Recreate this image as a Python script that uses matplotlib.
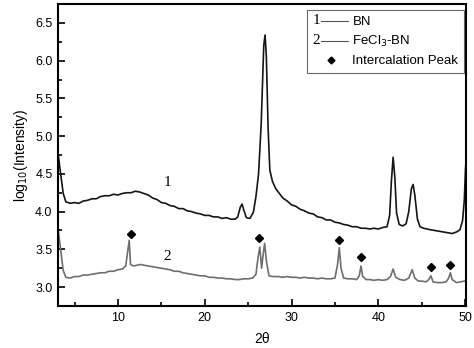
import matplotlib
matplotlib.use("Agg")
import matplotlib.pyplot as plt
from matplotlib.legend_handler import HandlerBase
from matplotlib.lines import Line2D
from matplotlib.text import Text

plt.rcParams["font.family"] = ["Liberation Sans", "DejaVu Sans"]

# curve 1: BN
bn_x = [3.1, 3.4, 3.7, 4.0, 4.5, 5.0, 5.5, 6.0, 6.5, 7.0, 7.5, 8.0, 8.5, 9.0, 9.5,
        10.0, 10.5, 11.0, 11.5, 12.0, 12.5, 13.0, 13.5, 14.0, 14.5, 15.0, 15.5,
        16.0, 16.5, 17.0, 17.5, 18.0, 18.5, 19.0, 19.5, 20.0, 20.5, 21.0, 21.5,
        22.0, 22.5, 23.0, 23.5, 23.8, 24.1, 24.3, 24.5, 24.8, 25.2, 25.6, 25.9,
        26.2, 26.5, 26.8, 26.95, 27.1, 27.3, 27.5, 27.8, 28.2, 28.6, 29.0, 29.5,
        30.0, 30.5, 31.0, 31.5, 32.0, 32.5, 33.0, 33.5, 34.0, 34.5, 35.0, 35.5,
        36.0, 36.5, 37.0, 37.5, 38.0, 38.5, 39.0, 39.5, 40.0, 40.5, 41.0, 41.3,
        41.5, 41.7, 41.9, 42.1, 42.4, 42.8, 43.2, 43.5, 43.8, 44.0, 44.2, 44.5,
        44.8, 45.2, 45.6, 46.0, 46.5, 47.0, 47.5, 48.0, 48.5, 49.0, 49.4, 49.7,
        49.9, 50.05]
bn_y = [4.78, 4.50, 4.24, 4.13, 4.11, 4.12, 4.11, 4.14, 4.15, 4.17, 4.17, 4.20,
        4.21, 4.21, 4.23, 4.22, 4.24, 4.25, 4.25, 4.27, 4.26, 4.24, 4.22, 4.18,
        4.16, 4.12, 4.11, 4.08, 4.07, 4.04, 4.04, 4.01, 4.00, 3.98, 3.97, 3.95,
        3.95, 3.93, 3.93, 3.91, 3.92, 3.90, 3.90, 3.93, 4.06, 4.10, 4.02, 3.92,
        3.91, 3.99, 4.20, 4.50, 5.15, 6.20, 6.34, 6.05, 5.10, 4.55, 4.40, 4.30,
        4.24, 4.18, 4.14, 4.09, 4.07, 4.03, 4.01, 3.98, 3.97, 3.93, 3.92, 3.89,
        3.89, 3.86, 3.85, 3.83, 3.82, 3.80, 3.80, 3.78, 3.78, 3.77, 3.78, 3.77,
        3.79, 3.80, 3.95, 4.40, 4.72, 4.45, 3.98, 3.83, 3.81, 3.84, 4.00, 4.30,
        4.36, 4.22, 3.90, 3.80, 3.78, 3.77, 3.76, 3.75, 3.74, 3.73, 3.72, 3.71,
        3.73, 3.76, 3.88, 4.15, 4.60]

# curve 2: FeCl3-BN
fe_x = [3.1, 3.4, 3.7, 4.0, 4.5, 5.0, 5.5, 6.0, 6.5, 7.0, 7.5, 8.0, 8.5, 9.0, 9.5,
        10.0, 10.5, 10.9, 11.1, 11.3, 11.45, 11.8, 12.2, 12.6, 13.0, 13.5, 14.0,
        14.5, 15.0, 15.5, 16.0, 16.5, 17.0, 17.5, 18.0, 18.5, 19.0, 19.5, 20.0,
        20.5, 21.0, 21.5, 22.0, 22.5, 23.0, 23.5, 24.0, 24.5, 25.0, 25.5, 25.9,
        26.15, 26.35, 26.55, 26.75, 26.9, 27.1, 27.4, 27.8, 28.5, 29.0, 29.5,
        30.0, 30.5, 31.0, 31.5, 32.0, 32.5, 33.0, 33.5, 34.0, 34.5, 35.0, 35.3,
        35.5, 35.7, 36.0, 36.5, 37.0, 37.5, 37.8, 38.0, 38.2, 38.6, 39.0, 39.5,
        40.0, 40.5, 41.0, 41.4, 41.7, 42.0, 42.5, 43.0, 43.5, 43.9, 44.2, 44.6,
        45.0, 45.5, 45.8, 46.05, 46.3, 46.8, 47.3, 47.8, 48.1, 48.3, 48.5, 49.0,
        49.5, 49.9]
fe_y = [3.78, 3.50, 3.22, 3.13, 3.12, 3.14, 3.14, 3.16, 3.16, 3.17, 3.18, 3.19,
        3.19, 3.21, 3.21, 3.23, 3.24, 3.28, 3.45, 3.62, 3.30, 3.28, 3.29, 3.30,
        3.29, 3.28, 3.27, 3.26, 3.25, 3.24, 3.23, 3.21, 3.21, 3.19, 3.18, 3.17,
        3.16, 3.15, 3.15, 3.13, 3.13, 3.12, 3.12, 3.11, 3.11, 3.10, 3.10, 3.11,
        3.11, 3.12, 3.17, 3.40, 3.53, 3.25, 3.45, 3.58, 3.35, 3.15, 3.14, 3.14,
        3.13, 3.14, 3.13, 3.13, 3.12, 3.13, 3.12, 3.12, 3.11, 3.12, 3.11, 3.11,
        3.12, 3.30, 3.52, 3.25, 3.12, 3.11, 3.11, 3.10, 3.15, 3.28, 3.14, 3.10,
        3.10, 3.09, 3.10, 3.09, 3.10, 3.14, 3.24, 3.13, 3.10, 3.09, 3.12, 3.23,
        3.12, 3.08, 3.08, 3.07, 3.10, 3.15, 3.07, 3.06, 3.06, 3.07, 3.12, 3.19,
        3.10, 3.06, 3.07, 3.08]

# intercalation peak markers
peak_x = [11.5, 26.3, 35.5, 38.0, 46.1, 48.3]
peak_y = [3.70, 3.65, 3.63, 3.40, 3.27, 3.29]

BN_COLOR = "#151515"
FE_COLOR = "#6e6e6e"


class NumberedLine(HandlerBase):
    # legend entry drawn as a serif number followed by a short line
    def __init__(self, num):
        super().__init__()
        self.num = num

    def create_artists(self, legend, orig_handle, xdescent, ydescent,
                       width, height, fontsize, trans):
        y = (height - ydescent) / 2
        num = Text(-xdescent, y, self.num, family="Liberation Serif",
                   fontsize=11, ha="left", va="center", transform=trans)
        line = Line2D([-xdescent + 0.22 * width, -xdescent + width], [y, y],
                      color="#555555", lw=0.8, transform=trans)
        return [num, line]


def main() -> None:
    fig = plt.figure(figsize=(4.74, 3.48), dpi=100)
    ax = fig.add_axes([0.1224, 0.1207, 0.8608, 0.8678])

    ax.plot(bn_x, bn_y, color=BN_COLOR, lw=1.2)
    ax.plot(fe_x, fe_y, color=FE_COLOR, lw=1.2)
    ax.plot(peak_x, peak_y, ls="none", marker="D", ms=4, color="black")

    ax.text(15.7, 4.38, "1", family="Liberation Serif", fontsize=11,
            ha="center", va="center")
    ax.text(15.7, 3.41, "2", family="Liberation Serif", fontsize=11,
            ha="center", va="center")

    ax.set_xlim(3.1, 50.1)
    ax.set_ylim(2.75, 6.75)
    ax.set_xticks([10, 20, 30, 40, 50])
    ax.set_xticks([5, 15, 25, 35, 45], minor=True)
    ax.set_yticks([3.0, 3.5, 4.0, 4.5, 5.0, 5.5, 6.0, 6.5])
    ax.set_yticks([2.75, 3.25, 3.75, 4.25, 4.75, 5.25, 5.75, 6.25], minor=True)
    ax.tick_params(which="both", direction="in", top=False, right=False,
                   labelsize=9, width=1.2)
    ax.tick_params(which="major", length=5, pad=4)
    ax.tick_params(which="minor", length=3)
    for s in ax.spines.values():
        s.set_linewidth(1.5)

    ax.set_xlabel("2θ", fontsize=10, labelpad=6)
    ax.set_ylabel("log$_{10}$(Intensity)", fontsize=10, labelpad=4)

    h_bn = Line2D([], [], color="#555555", lw=0.8)
    h_fe = Line2D([], [], color="#555555", lw=0.8)
    h_pk = Line2D([], [], ls="none", marker="D", ms=3.5, color="black")
    labels = ["BN", "FeCl$_3$-BN", "Intercalation Peak"]
    leg = ax.legend([h_bn, h_fe, h_pk], labels, loc="upper left",
                    bbox_to_anchor=(0.61, 0.98), borderaxespad=0,
                    fontsize=9.5, frameon=True, fancybox=False,
                    edgecolor="#444444", handlelength=2.7,
                    handletextpad=0.3, labelspacing=0.45, borderpad=0.45,
                    handler_map={h_bn: NumberedLine("1"),
                                 h_fe: NumberedLine("2")})
    leg.get_frame().set_linewidth(0.8)

    fig.savefig("out.png", dpi=100)
    plt.close(fig)


if __name__ == "__main__":
    main()
